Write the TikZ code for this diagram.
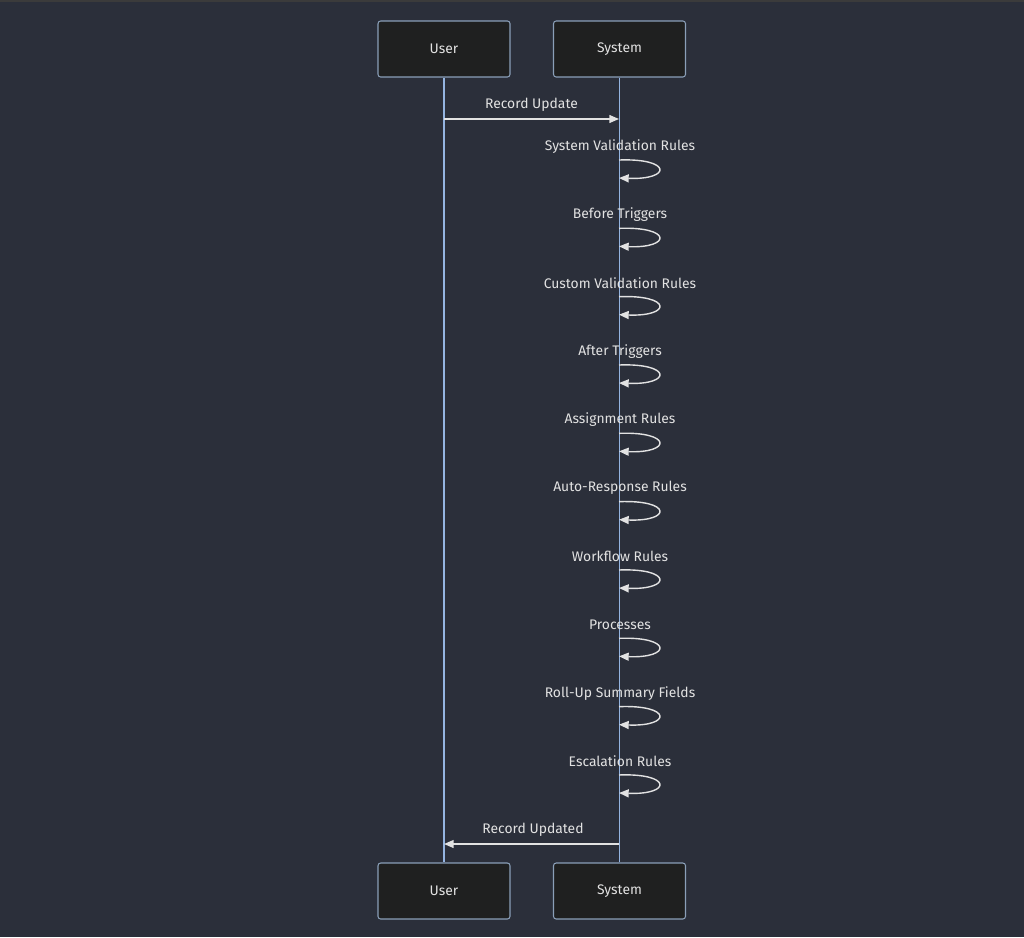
\documentclass[tikz,border=0pt]{standalone}
\usepackage{fontspec}
\setmainfont{Fira Sans}
\usetikzlibrary{arrows.meta}
\definecolor{bgcol}{HTML}{2B2F3A}
\definecolor{stripcol}{HTML}{3B3B3B}
\definecolor{boxfill}{HTML}{1F2020}
\definecolor{boxline}{HTML}{8A9FB8}
\definecolor{lifecol}{HTML}{94B4E0}
\definecolor{txtcol}{HTML}{E2E2E2}
\begin{document}
\begin{tikzpicture}[x=0.02cm, y=-0.02cm, font=\fontsize{7.9}{9}\selectfont] % one unit = one pixel
    \tikzset{
        actor/.style={draw=boxline, fill=boxfill, rounded corners=1.5pt, line width=0.6pt,
            minimum width=2.64cm, minimum height=1.12cm, text=txtcol},
        lifeline/.style={draw=lifecol, line width=0.85pt},
        msg/.style={draw=txtcol, line width=0.8pt, -{Triangle[length=5.5pt,width=4.5pt]}},
        msglabel/.style={text=txtcol, inner sep=0pt}
    }
    % Background
    \fill[bgcol] (0,0) rectangle (1024,937);
    \fill[stripcol] (0,0) rectangle (1024,2);
    % Actors
    \node[actor] (usertop) at (444,49) {User};
    \node[actor] (systop) at (619.5,49) {System};
    \node[actor] (userbot) at (444,891) {User};
    \node[actor] (sysbot) at (619.5,891) {System};
    % Lifelines
    \draw[lifeline] (usertop.south) -- (userbot.north);
    \draw[lifeline] (systop.south) -- (sysbot.north);
    % Request
    \coordinate (reqa) at (444,119);
    \coordinate (reqb) at (619,119);
    \draw[msg] (reqa) -- (reqb);
    \node[msglabel] (reqlbl) at (531.5,104.5) {Record Update};
    % Self messages
    \foreach \lbl [count=\i] in {System Validation Rules, Before Triggers, Custom Validation Rules,
        After Triggers, Assignment Rules, Auto-Response Rules, Workflow Rules, Processes,
        Roll-Up Summary Fields, Escalation Rules} {
        \pgfmathsetmacro\yy{145+68.33*(\i-1)}
        \node[msglabel] (step\i) at (620,\yy+1.5) {\lbl};
        \coordinate (s\i) at (619,\yy+15);
        \coordinate (e\i) at (619,\yy+33);
        \draw[msg] (s\i) .. controls (672,\yy+13) and (672,\yy+35) .. (e\i);
    }
    % Reply
    \coordinate (repa) at (619,844);
    \coordinate (repb) at (444,844);
    \draw[msg] (repa) -- (repb);
    \node[msglabel] (replbl) at (533,829.5) {Record Updated};
\end{tikzpicture}
\end{document}
